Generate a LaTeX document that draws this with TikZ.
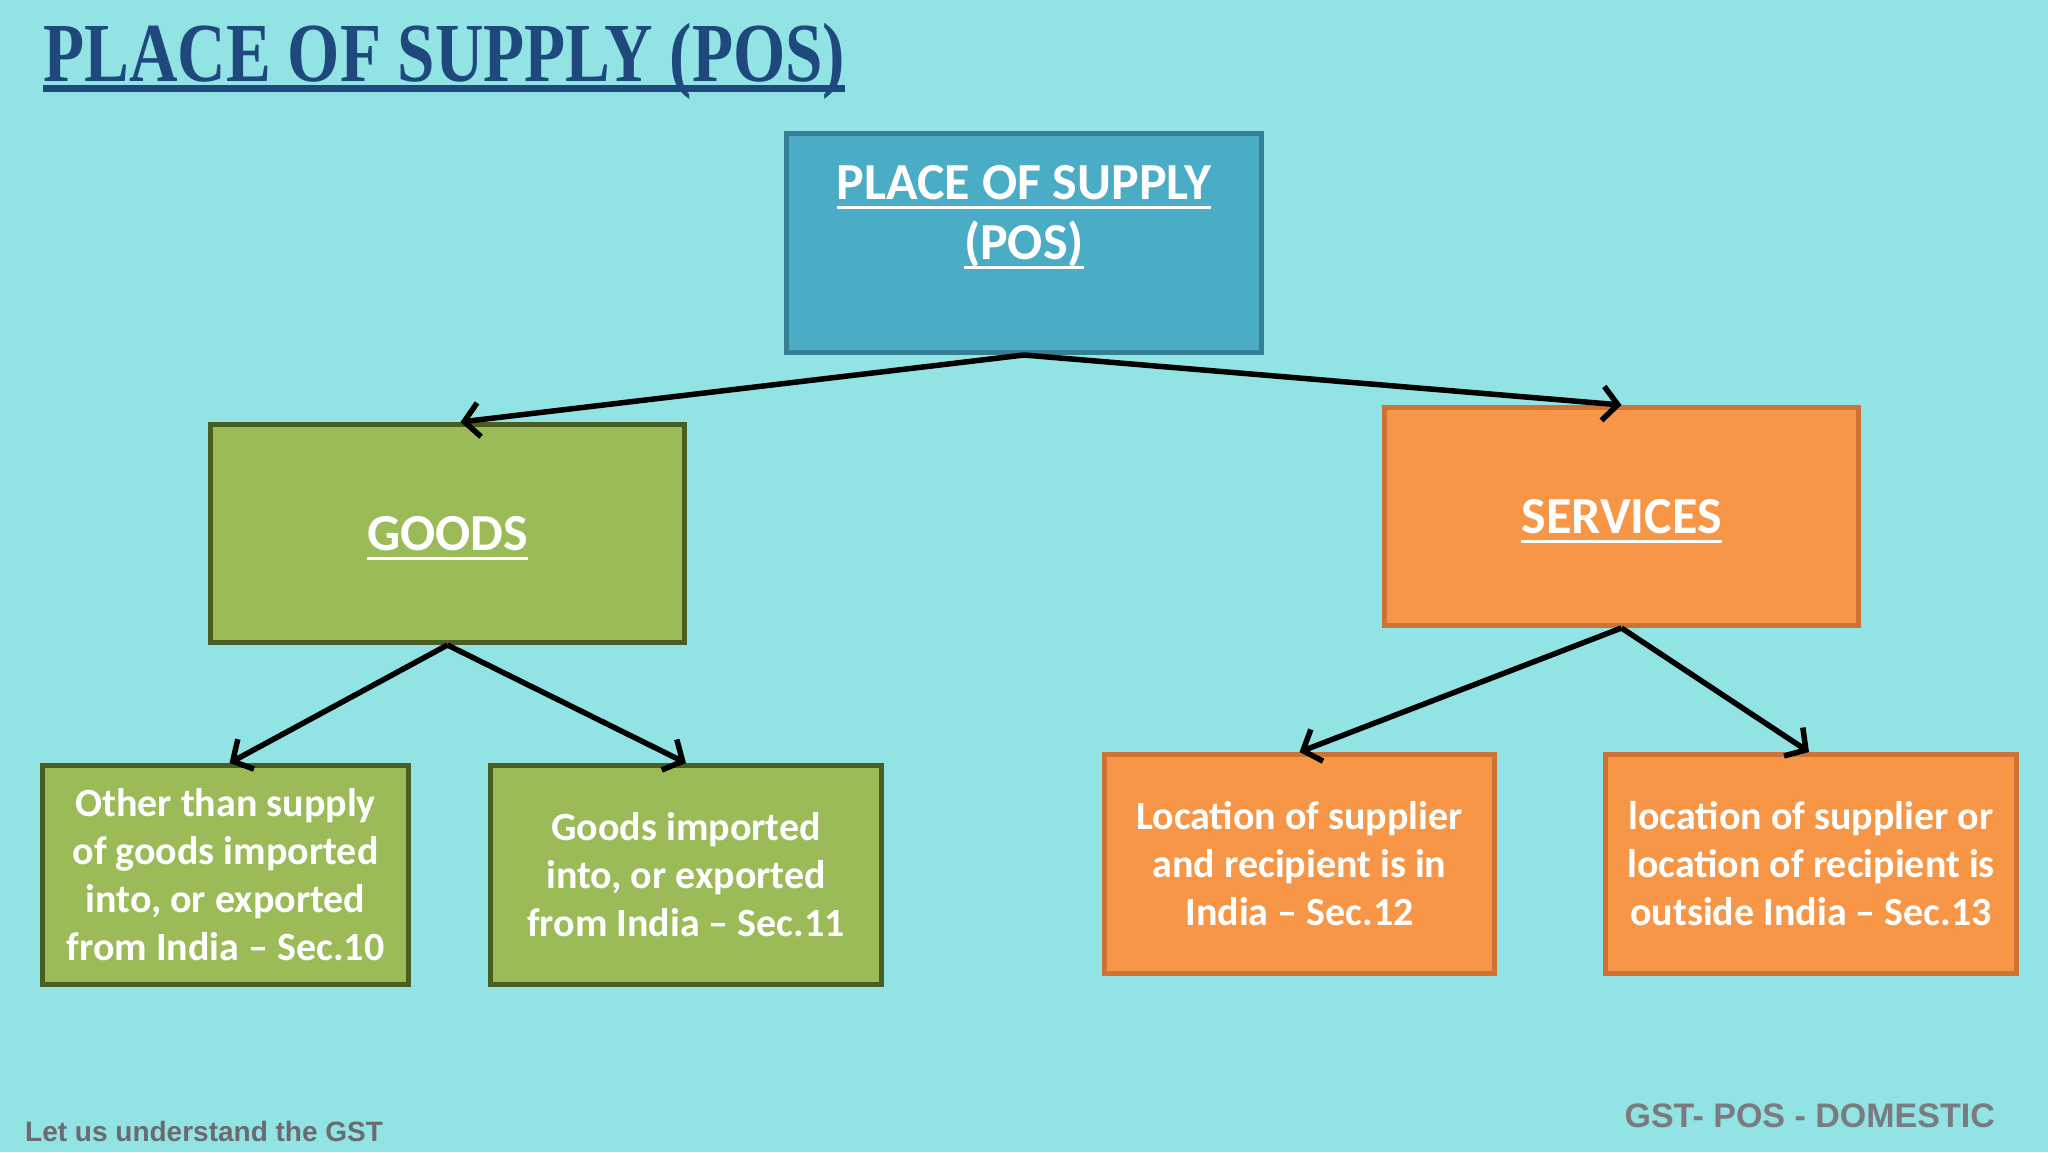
\documentclass[tikz,border=0pt]{standalone}
\usepackage{fontspec}
\usetikzlibrary{arrows.meta}
\newfontfamily\calfont{Carlito}
\newfontfamily\timesfont{Liberation Serif}
\newfontfamily\arialfont{Liberation Sans}
\definecolor{bg}{HTML}{92E3E4}
\definecolor{titleblue}{HTML}{1F497D}
\definecolor{posfill}{HTML}{4BACC6}
\definecolor{posdraw}{HTML}{357F94}
\definecolor{gfill}{HTML}{9BBB59}
\definecolor{gdraw}{HTML}{4A5D23}
\definecolor{sfill}{HTML}{F79646}
\definecolor{sdraw}{HTML}{CC7335}
\definecolor{footgray}{HTML}{6A6B6F}
\definecolor{footgraytwo}{HTML}{7A7B7F}
\newcommand\myul[1]{\setbox0\hbox{#1}\rlap{\smash{\rule[-0.19em]{\wd0}{0.06em}}}\box0}
\newcommand\titleul[1]{\setbox0\hbox{#1}\rlap{\rule[-0.13em]{\wd0}{0.08em}}\box0}
\begin{document}
\begin{tikzpicture}[x=1pt,y=-1pt,
  boxbase/.style={rectangle, line width=5pt, inner sep=0pt},
  posbox/.style={boxbase, fill=posfill, draw=posdraw, minimum width=475pt, minimum height=219pt},
  goodsbox/.style={boxbase, fill=gfill, draw=gdraw},
  servbox/.style={boxbase, fill=sfill, draw=sdraw},
  bigtext/.style={align=center, text=white, font=\calfont\bfseries\fontsize{52}{60}\selectfont},
  smalltext/.style={align=center, text=white, font=\calfont\bfseries\fontsize{40}{48}\selectfont},
  conn/.style={line width=5.5pt, -{Straight Barb[length=15pt,width=34pt]}},
  foot/.style={inner sep=0pt}
]
\fill[bg] (0,0) rectangle (2048,1152);
\useasboundingbox (0,0) rectangle (2048,1152);

% title
\node[anchor=base west, inner sep=0pt, text=titleblue] (title) at (43,81)
  {\scalebox{0.8}[1]{\timesfont\bfseries\fontsize{84}{96}\selectfont\titleul{PLACE OF SUPPLY (POS)}}};

% top box
\node[posbox] (pos) at (1024,243) {};
\node[bigtext] (postext) at (1024,216) {\myul{PLACE OF SUPPLY}\\\myul{(POS)}};

% second level
\node[goodsbox, minimum width=474pt, minimum height=218pt, bigtext] (goods) at (447.5,533.5) {\myul{GOODS}};
\node[servbox, minimum width=474pt, minimum height=218pt, bigtext] (serv) at (1621.5,516.5) {\myul{SERVICES}};

% third level
\node[goodsbox, minimum width=366pt, minimum height=219pt, smalltext] (g1) at (225.5,875)
  {Other than supply\\of goods imported\\into, or exported\\from India – Sec.10};
\node[goodsbox, minimum width=391pt, minimum height=219pt, smalltext] (g2) at (686,875)
  {Goods imported\\into, or exported\\from India – Sec.11};
\node[servbox, minimum width=390pt, minimum height=219pt, smalltext] (s1) at (1299.5,864)
  {Location of supplier\\and recipient is in\\India – Sec.12};
\node[servbox, minimum width=411pt, minimum height=219pt, smalltext] (s2) at (1811,864)
  {location of supplier or\\location of recipient is\\outside India – Sec.13};

% connectors
\draw[conn] (pos.south) -- ([xshift=13pt]goods.north);
\draw[conn] (pos.south) -- (serv.north);
\draw[conn] (goods.south) -- ([xshift=4pt]g1.north);
\draw[conn] (goods.south) -- (g2.north);
\draw[conn] (serv.south) -- (s1.north);
\draw[conn] (serv.south) -- ([xshift=-2pt]s2.north);

% footers
\node[foot, text=footgray, anchor=base west, font=\arialfont\bfseries\fontsize{28}{32}\selectfont] (foot1) at (25,1141) {Let us understand the GST};
\node[foot, text=footgraytwo, anchor=base east, font=\arialfont\bfseries\fontsize{34}{40}\selectfont] (foot2) at (1995,1127) {GST- POS - DOMESTIC};
\end{tikzpicture}
\end{document}
